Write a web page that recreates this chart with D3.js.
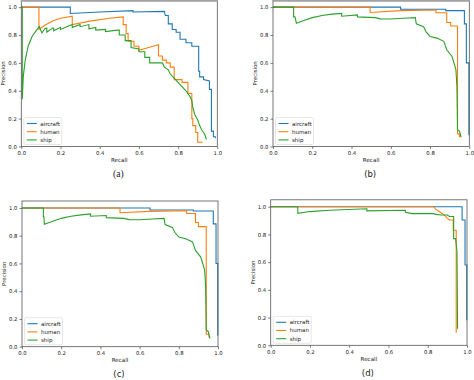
<!DOCTYPE html>
<html>
<head>
<meta charset="utf-8">
<script src="https://cdn.jsdelivr.net/npm/d3@7"></script>
<style>
  body { margin: 0; background: #fff; }
  svg { display: block; }
  text { font-family: "DejaVu Sans", sans-serif; fill: #222; }
</style>
</head>
<body>
<div id="chart"></div>
<script>
// classes + tick values
const classes = ["aircraft", "human", "ship"];
const classColors = ["#1f77b4", "#ff7f0e", "#2ca02c"];
const xTicks = [0, 0.2, 0.4, 0.6, 0.8, 1.0];
const yTicks = [0, 0.2, 0.4, 0.6, 0.8, 1.0];
const captions = ["(a)", "(b)", "(c)", "(d)"];

// precision-recall curves, [recall, precision]
const aircraftA = [[0,1],[0.25,1],[0.25,0.955],[0.4,0.965],[0.57,0.975],[0.57,0.965],[0.73,0.97],[0.735,0.94],[0.75,0.94],[0.75,0.88],[0.77,0.88],[0.77,0.84],[0.79,0.84],[0.79,0.82],[0.81,0.82],[0.81,0.77],[0.84,0.77],[0.84,0.745],[0.87,0.745],[0.87,0.72],[0.905,0.72],[0.905,0.54],[0.91,0.54],[0.91,0.5],[0.93,0.5],[0.93,0.48],[0.96,0.47],[0.96,0.41],[0.97,0.41],[0.97,0.11],[0.98,0.11],[0.98,0.07],[0.99,0.07],[0.99,0.06]];
const humanA = [[0,1],[0.09,1],[0.09,0.84],[0.12,0.87],[0.16,0.9],[0.2,0.92],[0.26,0.935],[0.26,0.875],[0.35,0.9],[0.45,0.92],[0.52,0.93],[0.52,0.875],[0.535,0.875],[0.535,0.81],[0.545,0.81],[0.545,0.755],[0.575,0.755],[0.575,0.72],[0.6,0.72],[0.6,0.69],[0.65,0.71],[0.7,0.73],[0.7,0.65],[0.72,0.65],[0.72,0.62],[0.74,0.62],[0.74,0.6],[0.76,0.6],[0.76,0.57],[0.78,0.57],[0.78,0.48],[0.82,0.48],[0.82,0.46],[0.85,0.46],[0.85,0.38],[0.87,0.38],[0.87,0.2],[0.875,0.2],[0.875,0.15],[0.89,0.15],[0.89,0.1],[0.9,0.1],[0.9,0.03],[0.925,0.03]];
const shipA = [[0,1],[0.005,1],[0.005,0.34],[0.01,0.5],[0.02,0.62],[0.035,0.72],[0.055,0.79],[0.075,0.83],[0.092,0.86],[0.105,0.815],[0.12,0.845],[0.13,0.85],[0.13,0.82],[0.16,0.85],[0.165,0.85],[0.165,0.83],[0.2,0.855],[0.2,0.84],[0.25,0.87],[0.26,0.875],[0.26,0.855],[0.3,0.875],[0.3,0.86],[0.345,0.875],[0.345,0.845],[0.38,0.855],[0.38,0.835],[0.43,0.84],[0.43,0.825],[0.49,0.835],[0.5,0.835],[0.5,0.8],[0.53,0.8],[0.53,0.76],[0.56,0.76],[0.56,0.71],[0.6,0.7],[0.6,0.68],[0.63,0.68],[0.63,0.64],[0.655,0.64],[0.655,0.6],[0.72,0.6],[0.73,0.57],[0.75,0.55],[0.76,0.52],[0.78,0.49],[0.8,0.46],[0.82,0.43],[0.84,0.4],[0.86,0.36],[0.87,0.33],[0.875,0.28],[0.885,0.23],[0.9,0.19],[0.91,0.15],[0.92,0.12],[0.935,0.09],[0.945,0.05]];

const aircraftB = [[0,1],[0.65,1],[0.65,0.985],[0.88,0.985],[0.88,0.975],[0.975,0.975],[0.975,0.88],[0.985,0.88],[0.985,0.6],[0.998,0.6],[0.998,0.08]];
const humanB = [[0,1],[0.495,1],[0.495,0.962],[0.65,0.975],[0.83,0.98],[0.83,0.96],[0.885,0.96],[0.885,0.89],[0.905,0.89],[0.905,0.865],[0.94,0.865],[0.94,0.09],[0.95,0.09],[0.95,0.07],[0.96,0.07]];
const shipB = [[0,1],[0.105,1],[0.105,0.93],[0.112,0.93],[0.119,0.885],[0.15,0.9],[0.2,0.925],[0.25,0.94],[0.3,0.95],[0.35,0.955],[0.35,0.935],[0.43,0.945],[0.43,0.93],[0.52,0.925],[0.547,0.916],[0.6,0.915],[0.665,0.92],[0.725,0.925],[0.73,0.88],[0.767,0.86],[0.78,0.823],[0.8,0.79],[0.835,0.778],[0.87,0.755],[0.885,0.694],[0.912,0.646],[0.925,0.586],[0.932,0.55],[0.937,0.43],[0.94,0.12],[0.95,0.11],[0.958,0.07]];

const aircraftC = [[0,1],[0.653,1],[0.653,0.985],[0.874,0.985],[0.874,0.978],[0.976,0.978],[0.976,0.885],[0.99,0.885],[0.99,0.6],[0.999,0.6],[0.999,0.08]];
const humanC = [[0,1],[0.5,1],[0.5,0.965],[0.65,0.975],[0.84,0.98],[0.84,0.96],[0.885,0.96],[0.885,0.895],[0.9,0.895],[0.9,0.865],[0.94,0.865],[0.94,0.09],[0.955,0.09],[0.955,0.07],[0.962,0.07]];
const shipC = [[0,1],[0.109,1],[0.109,0.937],[0.112,0.937],[0.114,0.882],[0.15,0.9],[0.2,0.925],[0.25,0.94],[0.3,0.95],[0.35,0.957],[0.35,0.94],[0.43,0.945],[0.43,0.93],[0.52,0.925],[0.547,0.916],[0.6,0.915],[0.665,0.92],[0.725,0.925],[0.73,0.88],[0.767,0.86],[0.78,0.823],[0.8,0.79],[0.835,0.778],[0.87,0.755],[0.885,0.694],[0.912,0.646],[0.925,0.586],[0.932,0.55],[0.937,0.43],[0.94,0.12],[0.95,0.11],[0.958,0.06]];

const aircraftD = [[0,1],[0.975,1],[0.975,0.904],[0.99,0.904],[0.99,0.58],[0.999,0.58],[0.999,0.18]];
const humanD = [[0,1],[0.83,1],[0.84,0.983],[0.86,0.964],[0.885,0.94],[0.9,0.916],[0.91,0.904],[0.93,0.904],[0.93,0.83],[0.945,0.83],[0.945,0.09]];
const shipD = [[0,1],[0.138,1],[0.138,0.952],[0.2,0.965],[0.3,0.975],[0.49,0.985],[0.49,0.97],[0.686,0.975],[0.686,0.96],[0.72,0.95],[0.83,0.95],[0.84,0.945],[0.87,0.94],[0.9,0.94],[0.91,0.93],[0.932,0.93],[0.932,0.77],[0.942,0.77],[0.949,0.675],[0.952,0.12]];

const curvesA = [aircraftA, humanA, shipA];
const curvesB = [aircraftB, humanB, shipB];
const curvesC = [aircraftC, humanC, shipC];
const curvesD = [aircraftD, humanD, shipD];

// panel boxes in page pixels
const panels = [
  { left: 21.3, top: 0.2, width: 196, height: 146.3, curves: curvesA, caption: captions[0], serif: true },
  { left: 273, top: 0.2, width: 196.3, height: 146.3, curves: curvesB, caption: captions[1], serif: false },
  { left: 22, top: 201, width: 196, height: 145.7, curves: curvesC, caption: captions[2], serif: false },
  { left: 270.7, top: 199.8, width: 196.3, height: 145.5, curves: curvesD, caption: captions[3], serif: false }
];

var svg = d3.select("#chart")
  .append("svg")
  .attr("width", 474)
  .attr("height", 380);

svg.append("rect").attr("width", 474).attr("height", 380).attr("fill", "#fff");

panels.forEach(function(p, i) {
  var g = svg.append("g")
    .attr("transform", `translate(${p.left},${p.top})`);

  var x = d3.scaleLinear().domain([0, 1]).range([0, p.width]);
  var y = d3.scaleLinear().domain([0, 1.05]).range([p.height, 0]);

  var line = d3.line()
    .x(d => x(d[0]))
    .y(d => y(d[1]));

  p.curves.forEach(function(c, k) {
    g.append("path")
      .datum(c)
      .attr("d", line)
      .attr("fill", "none")
      .attr("stroke", classColors[k])
      .attr("stroke-width", 1.1)
      .attr("stroke-linejoin", "miter");
  });

  // axes
  var xAxis = g.append("g")
    .attr("transform", `translate(0,${p.height})`)
    .call(d3.axisBottom(x).tickValues(xTicks).tickFormat(d3.format(".1f")).tickSize(2.5).tickPadding(2));
  var yAxis = g.append("g")
    .call(d3.axisLeft(y).tickValues(yTicks).tickFormat(d3.format(".1f")).tickSize(2.5).tickPadding(2));
  [xAxis, yAxis].forEach(a => {
    a.select(".domain").remove();
    a.selectAll("line").attr("stroke", "#444").attr("stroke-width", 0.7);
    a.selectAll("text").attr("font-size", 5.3).attr("fill", "#222")
      .attr("font-family", "DejaVu Sans, sans-serif");
  });

  // frame
  g.append("rect")
    .attr("width", p.width)
    .attr("height", p.height)
    .attr("fill", "none")
    .attr("stroke", "#555")
    .attr("stroke-width", 0.8);

  if (p.top < 1) {
    g.append("rect")
      .attr("x", -0.5).attr("y", -p.top)
      .attr("width", p.width + 1).attr("height", 1.8)
      .attr("fill", "#a3a3a3");
  }

  g.append("text")
    .attr("x", p.width / 2)
    .attr("y", p.height + 15.5)
    .attr("text-anchor", "middle")
    .attr("font-size", 5.6)
    .text("Recall");

  g.append("text")
    .attr("transform", `translate(-15.8,${p.height / 2}) rotate(-90)`)
    .attr("text-anchor", "middle")
    .attr("font-size", 5.4)
    .text("Precision");

  g.append("text")
    .attr("x", p.width / 2 - 1)
    .attr("y", p.height + 30.5)
    .attr("text-anchor", "middle")
    .attr("font-size", p.serif ? 9.5 : 8.5)
    .style("font-family", p.serif ? "'Liberation Serif', serif" : "'DejaVu Sans', sans-serif")
    .text(p.caption);

  // legend
  var lg = g.append("g")
    .attr("transform", `translate(2.5,${p.height - 29})`);
  lg.append("rect")
    .attr("width", 38)
    .attr("height", 27)
    .attr("rx", 1.5)
    .attr("fill", "#fff")
    .attr("fill-opacity", 0.85)
    .attr("stroke", "#d6d6d6")
    .attr("stroke-width", 0.6);
  classes.forEach(function(name, k) {
    var yy = 6 + k * 8.2;
    lg.append("line")
      .attr("x1", 3).attr("x2", 13)
      .attr("y1", yy).attr("y2", yy)
      .attr("stroke", classColors[k])
      .attr("stroke-width", 1.1);
    lg.append("text")
      .attr("x", 16.5)
      .attr("y", yy + 2)
      .attr("font-size", 5.5)
      .text(name);
  });
});
</script>
</body>
</html>
